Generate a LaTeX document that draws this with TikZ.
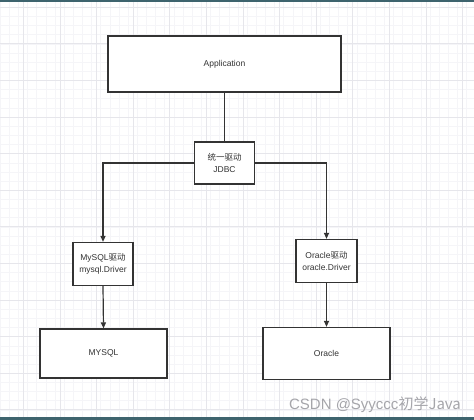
\documentclass[tikz,border=0pt]{standalone}
\usepackage{fontspec}
\setmainfont{Liberation Sans}
\newfontfamily\cjk{Noto Sans CJK SC}
\usepackage{xcolor}
\usepackage{tikz}
\usetikzlibrary{arrows.meta,positioning}
\definecolor{DInk}{RGB}{51,51,51}
\definecolor{DGridMinor}{RGB}{245,245,248}
\definecolor{DGridMajor}{RGB}{230,230,235}
\definecolor{DBar}{RGB}{62,100,110}
\definecolor{DMark}{RGB}{165,165,170}

\tikzset{
  box/.style={draw=DInk, line width=1.2pt, fill=white, text=DInk,
    align=center, inner sep=0pt, font=\fontsize{8.5}{12}\selectfont},
  link/.style={draw=DInk, line width=1.2pt},
  flow/.style={link, -{Triangle[length=6pt,width=5pt]}}
}

\begin{document}
\begin{tikzpicture}[x=1pt,y=-1pt]
  \useasboundingbox (0,0) rectangle (474,420);
  % background grid
  \fill[white] (0,0) rectangle (474,420);
  \foreach \gx in {0,9.15,...,474} \draw[DGridMinor,line width=0.5pt] (\gx,0) -- (\gx,420);
  \foreach \gy in {-1.95,7.2,...,420} \draw[DGridMinor,line width=0.5pt] (0,\gy) -- (474,\gy);
  \foreach \gx in {23.4,60,...,474} \draw[DGridMajor,line width=0.7pt] (\gx,0) -- (\gx,420);
  \foreach \gy in {7.2,43.8,...,420} \draw[DGridMajor,line width=0.7pt] (0,\gy) -- (474,\gy);
  \fill[DBar] (0,0) rectangle (474,2);
  \fill[DBar] (0,417) rectangle (474,420);

  % boxes
  \node[box, minimum width=233pt, minimum height=56pt] (app) at (224.5,64) {Application};
  \node[box, minimum width=60pt, minimum height=42pt] (jdbc) at (224.5,163) {\cjk{统一驱动}\\JDBC};
  \node[box, minimum width=60pt, minimum height=43pt] (mysqldrv) at (103,264) {MySQL\cjk{驱动}\\mysql.Driver};
  \node[box, minimum width=61pt, minimum height=43pt] (oracledrv) at (326.5,261) {Oracle\cjk{驱动}\\oracle.Driver};
  \node[box, minimum width=127pt, minimum height=49pt] (mysql) at (103.5,353.5) {MYSQL};
  \node[box, minimum width=127pt, minimum height=52pt] (oracle) at (326.5,353.5) {Oracle};

  % connectors
  \draw[link] (app.south) -- (jdbc.north);
  \draw[flow] (jdbc.west) -| (mysqldrv.north);
  \draw[flow] (jdbc.east) -| (oracledrv.north);
  \draw[flow] (mysqldrv.south) -- (mysql.north);
  \draw[flow] (oracledrv.south) -- (oracle.north);

  % watermark
  \node[text=DMark, font=\fontsize{15}{18}\selectfont, inner sep=0pt] (mark) at (375,405) {CSDN @Syyccc\cjk{初学}Java};
\end{tikzpicture}
\end{document}
